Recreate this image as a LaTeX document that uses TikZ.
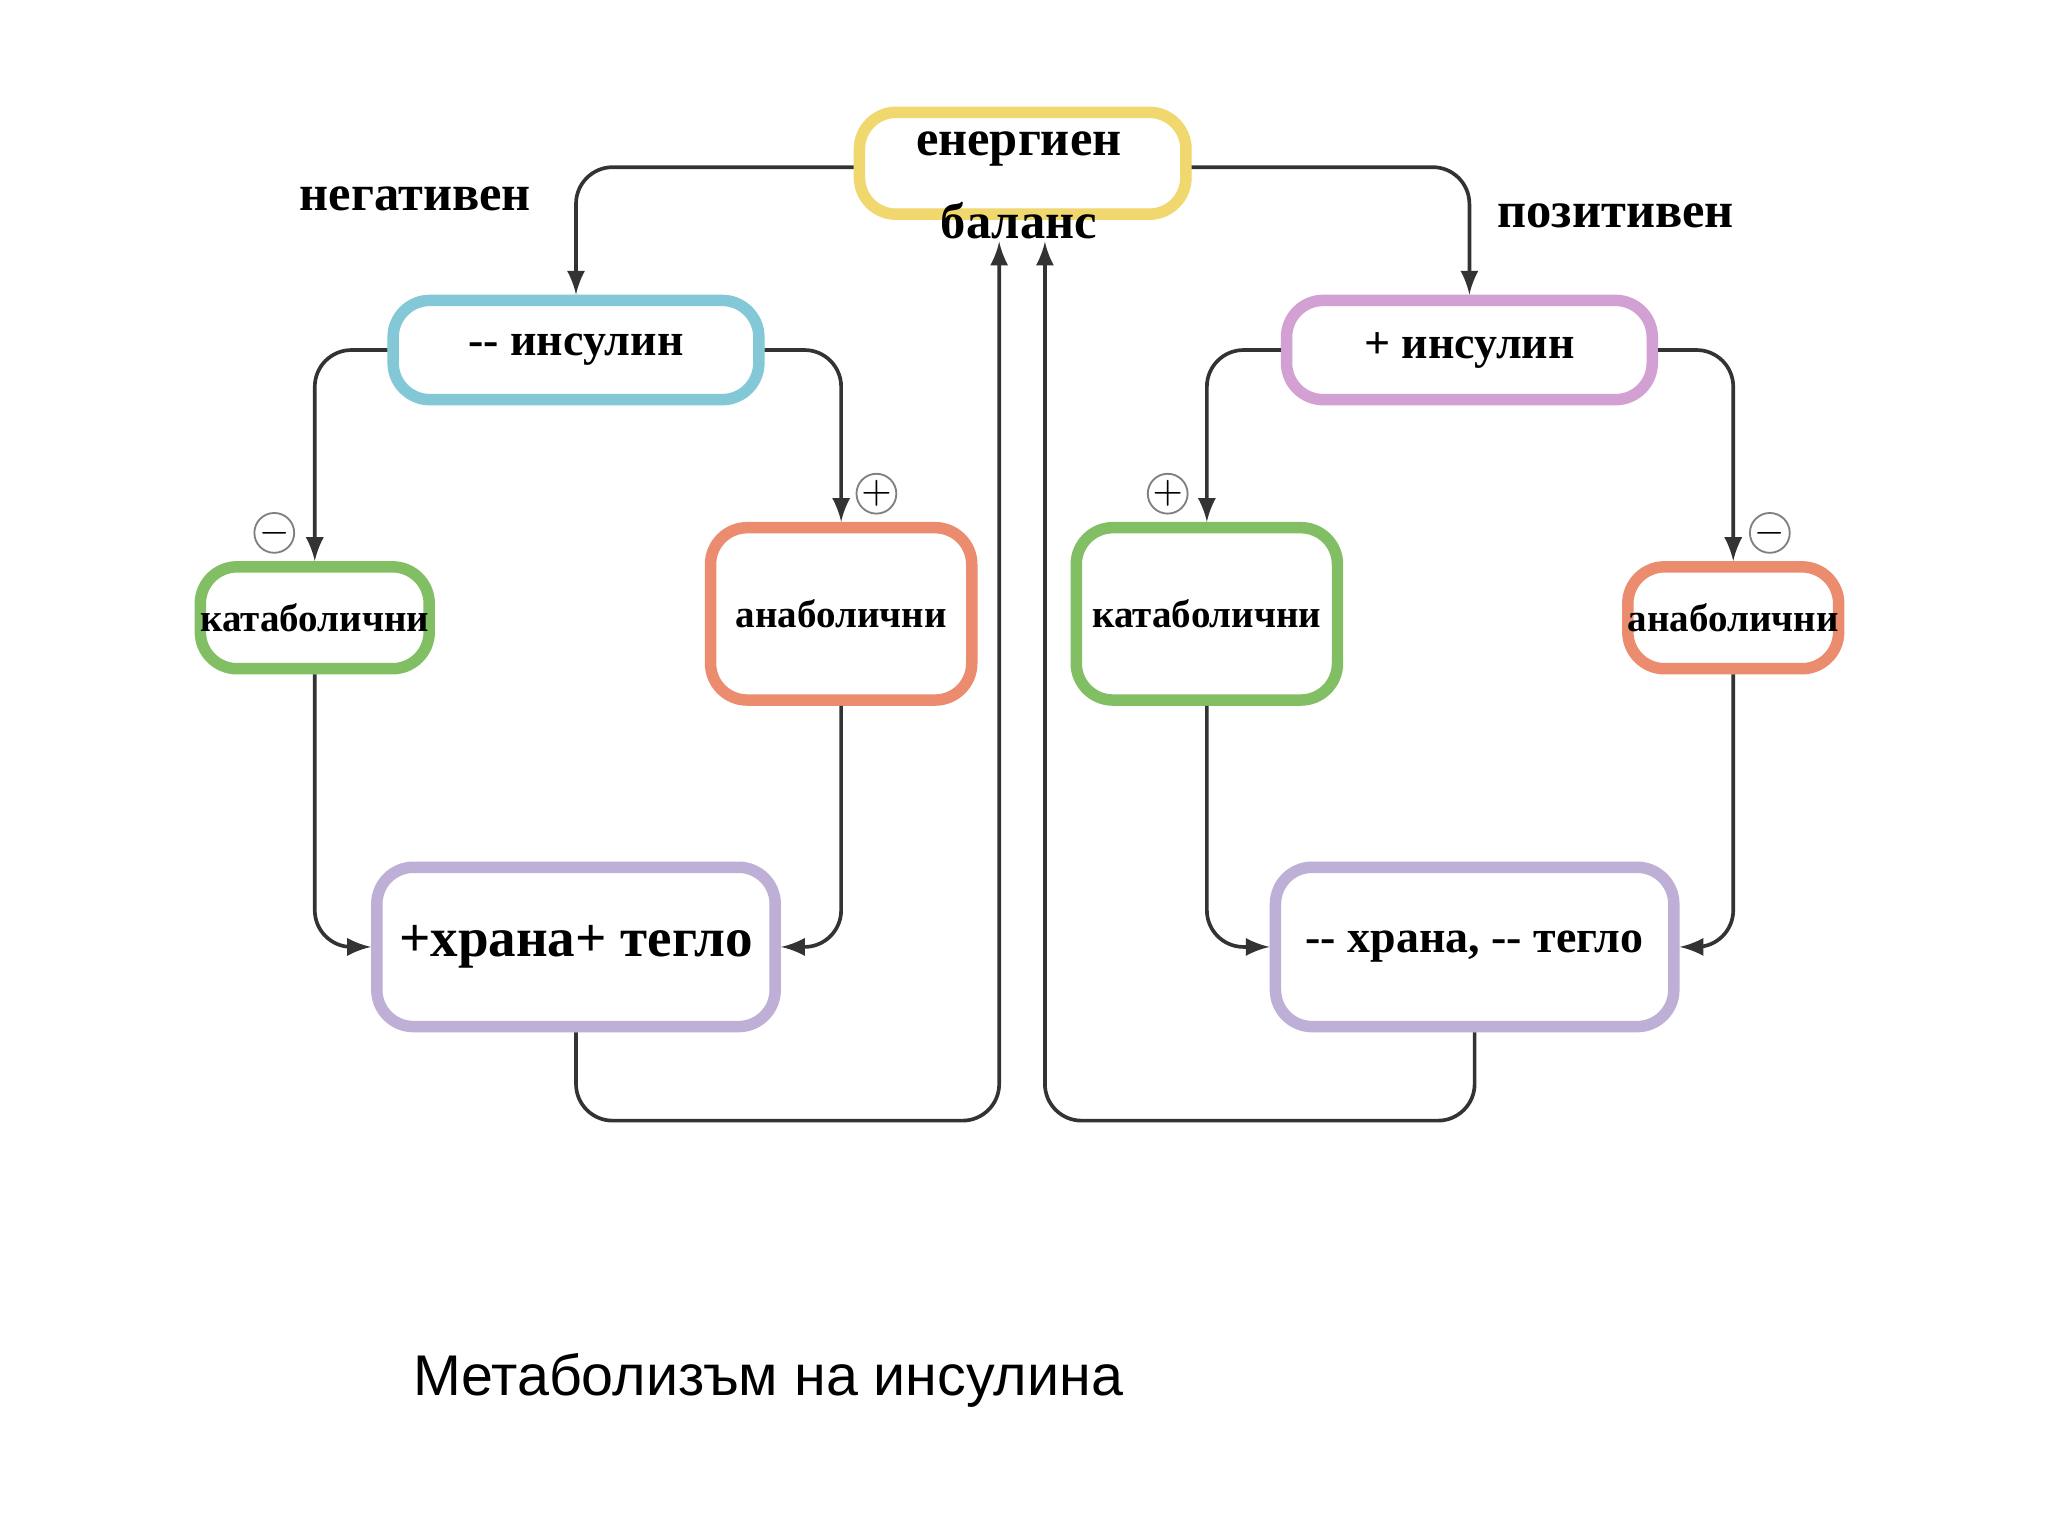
\documentclass[tikz,border=0pt]{standalone}
\usepackage{fontspec}
\setmainfont{Liberation Serif}
\newfontfamily\capfont{Liberation Sans}
\definecolor{ylw}{RGB}{240,215,110}
\definecolor{blu}{RGB}{130,200,215}
\definecolor{pnk}{RGB}{210,160,210}
\definecolor{grn}{RGB}{130,190,100}
\definecolor{sal}{RGB}{235,140,110}
\definecolor{lav}{RGB}{190,175,215}
\tikzset{
    box/.style={draw=#1, line width=2.5pt, fill=white, rounded corners=8pt, inner sep=0pt, font=\bfseries\fontsize{10}{11}\selectfont},
    small/.style={font=\bfseries\fontsize{8.5}{9}\selectfont},
    sign/.style={draw=gray, circle, inner sep=0pt, minimum size=0.28cm, font=\fontsize{8}{8}\selectfont},
    link/.style={->,>=latex, thick, rounded corners=8pt, draw=black!80}
}
\begin{document}
\begin{tikzpicture}
    \useasboundingbox[fill=white] (0,0) rectangle (15.68,-11.76);
    \node[box=ylw, minimum width=2.5cm, minimum height=0.78cm](EN) at (7.83,-1.25) {};
    \node[font=\bfseries\fontsize{11}{12}\selectfont, align=center](ENT) at (7.80,-1.42) {енергиен\\[6pt]баланс};
    \node[box=blu, minimum width=2.8cm, minimum height=0.76cm](NINS) at (4.41,-2.68) {-{}- инсулин};
    \node[box=pnk, minimum width=2.8cm, minimum height=0.76cm](PINS) at (11.25,-2.68) {+ инсулин};
    \node[box=grn, small, minimum width=1.56cm, minimum height=0.78cm](KATL) at (2.41,-4.73) {катаболични};
    \node[box=sal, small, minimum width=2.0cm, minimum height=1.32cm](ANAL) at (6.44,-4.70) {анаболични};
    \node[box=grn, small, minimum width=2.0cm, minimum height=1.32cm](KATR) at (9.24,-4.70) {катаболични};
    \node[box=sal, small, minimum width=1.56cm, minimum height=0.78cm](ANAR) at (13.27,-4.73) {анаболични};
    \node[box=lav, minimum width=3.05cm, minimum height=1.22cm, font=\bfseries\fontsize{12}{13}\selectfont](FOODL) at (4.41,-7.25) {+храна+ тегло};
    \node[box=lav, minimum width=3.05cm, minimum height=1.22cm](FOODR) at (11.29,-7.25) {-{}- храна, -{}- тегло};
    \node[font=\bfseries\fontsize{11}{12}\selectfont](NEG) at (3.18,-1.52) {негативен};
    \node[font=\bfseries\fontsize{11}{12}\selectfont](POS) at (12.37,-1.65) {позитивен};
    \node[sign](S1) at (2.10,-4.08) {$-$};
    \node[sign](S2) at (6.71,-3.78) {$+$};
    \node[sign](S3) at (8.94,-3.78) {$+$};
    \node[sign](S4) at (13.55,-4.08) {$-$};
    \coordinate (INL) at (7.65,-1.85);
    \coordinate (INR) at (8.00,-1.85);
    \draw[link] (EN.west |- 0,-1.28) -| (NINS.north);
    \draw[link] (EN.east |- 0,-1.28) -| (PINS.north);
    \draw[link] (NINS.west) -| (KATL.north);
    \draw[link] (NINS.east) -| (ANAL.north);
    \draw[link] (PINS.west) -| (KATR.north);
    \draw[link] (PINS.east) -| (ANAR.north);
    \draw[link] (KATL.south) |- (FOODL.west);
    \draw[link] (ANAL.south) |- (FOODL.east);
    \draw[link] (KATR.south) |- (FOODR.west);
    \draw[link] (ANAR.south) |- (FOODR.east);
    \draw[link] (FOODL.south) |- (7.65,-8.58) -- (INL);
    \draw[link] (FOODR.south) |- (8.00,-8.58) -- (INR);
    \node[font=\capfont\fontsize{12.5}{14}\selectfont](CAP) at (5.88,-10.57) {Метаболизъм на инсулина};
\end{tikzpicture}
\end{document}
